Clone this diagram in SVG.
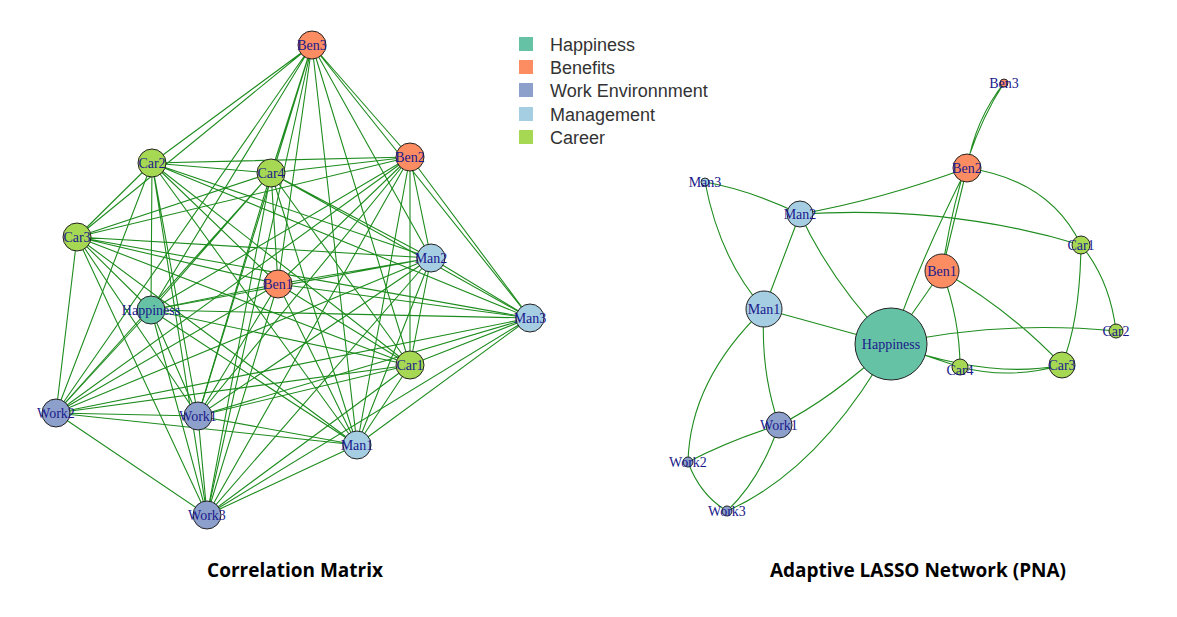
<svg xmlns="http://www.w3.org/2000/svg" width="1177" height="617" viewBox="0 0 1177 617">
<style>
.e{fill:none;stroke:#1e8c1e;stroke-width:1.1}
.n{stroke:#222;stroke-width:1}
.hp{fill:#66c2a5}.bn{fill:#fc8d62}.we{fill:#8da0cb}.mg{fill:#a6cee3}.cr{fill:#a6d854}
.l{font-family:"Liberation Serif",serif;font-size:14px;fill:#1a1a8c;text-anchor:middle;dominant-baseline:central}
.lg{font-family:"Liberation Sans",sans-serif;font-size:18px;fill:#333}
.t{font-family:"Open Sans","Liberation Sans",sans-serif;font-size:19px;font-weight:bold;fill:#000;text-anchor:middle}
</style>
<rect width="1177" height="617" fill="#fff"/>
<g id="connectors">
<path class="e" d="M312 45L152 163M312 45L271 173M312 45L410 157M312 45L77 237M312 45L431 258M312 45L278 284M312 45L151 310M312 45L530 318M312 45L410 365M312 45L56 413M312 45L198 416M312 45L357 445M312 45L207 515"/>
<path class="e" d="M152 163L271 173M152 163L410 157M152 163L77 237M152 163L431 258M152 163L278 284M152 163L151 310M152 163L530 318M152 163L410 365M152 163L56 413M152 163L198 416M152 163L357 445M152 163L207 515"/>
<path class="e" d="M271 173L410 157M271 173L77 237M271 173L431 258M271 173L278 284M271 173L151 310M271 173L530 318M271 173L410 365M271 173L56 413M271 173L198 416M271 173L357 445M271 173L207 515"/>
<path class="e" d="M410 157L77 237M410 157L431 258M410 157L278 284M410 157L151 310M410 157L530 318M410 157L410 365M410 157L56 413M410 157L198 416M410 157L357 445M410 157L207 515"/>
<path class="e" d="M77 237L431 258M77 237L278 284M77 237L151 310M77 237L530 318M77 237L410 365M77 237L56 413M77 237L198 416M77 237L357 445M77 237L207 515"/>
<path class="e" d="M431 258L278 284M431 258L151 310M431 258L530 318M431 258L410 365M431 258L56 413M431 258L198 416M431 258L357 445M431 258L207 515"/>
<path class="e" d="M278 284L151 310M278 284L530 318M278 284L410 365M278 284L56 413M278 284L198 416M278 284L357 445M278 284L207 515"/>
<path class="e" d="M151 310L530 318M151 310L410 365M151 310L56 413M151 310L198 416M151 310L357 445M151 310L207 515"/>
<path class="e" d="M530 318L410 365M530 318L56 413M530 318L198 416M530 318L357 445M530 318L207 515"/>
<path class="e" d="M410 365L56 413M410 365L198 416M410 365L357 445M410 365L207 515"/>
<path class="e" d="M56 413L198 416M56 413L357 445M56 413L207 515M198 416L357 445M198 416L207 515M357 445L207 515"/>
<path class="e" d="M1004 83Q975 120 967 168M1004 83Q960 150 942 271M967 168Q880 200 800 214M967 168Q1050 180 1081 245M967 168L942 271M967 168Q920 260 891 344M705 182Q750 190 800 214M705 182Q720 260 764 309M800 214Q950 205 1081 245M800 214L764 309M800 214Q830 280 891 344M1081 245Q1110 280 1116 331M1081 245Q1080 320 1062 365M942 271L891 344M942 271Q960 320 960 367M942 271Q1010 310 1062 365M764 309L891 344M764 309Q760 370 779 425M764 309Q690 380 688 462M891 344Q1000 320 1116 331M891 344Q990 380 1062 365M891 344Q830 400 779 425M891 344Q820 470 727 511M960 367Q1010 380 1062 365M891 344L960 367M779 425Q730 440 688 462M779 425Q760 480 727 511M688 462Q700 495 727 511"/>
</g>
<g id="Ben3L"><circle class="n bn" cx="312" cy="45" r="14"/><text class="l" x="312" y="45">Ben3</text></g>
<g id="Car2L"><circle class="n cr" cx="152" cy="163" r="14"/><text class="l" x="152" y="163">Car2</text></g>
<g id="Car4L"><circle class="n cr" cx="271" cy="173" r="14"/><text class="l" x="271" y="173">Car4</text></g>
<g id="Ben2L"><circle class="n bn" cx="410" cy="157" r="14"/><text class="l" x="410" y="157">Ben2</text></g>
<g id="Car3L"><circle class="n cr" cx="77" cy="237" r="14"/><text class="l" x="77" y="237">Car3</text></g>
<g id="Man2L"><circle class="n mg" cx="431" cy="258" r="14"/><text class="l" x="431" y="258">Man2</text></g>
<g id="Ben1L"><circle class="n bn" cx="278" cy="284" r="14"/><text class="l" x="278" y="284">Ben1</text></g>
<g id="HappinessL"><circle class="n hp" cx="151" cy="310" r="14"/><text class="l" x="151" y="310">Happiness</text></g>
<g id="Man3L"><circle class="n mg" cx="530" cy="318" r="14"/><text class="l" x="530" y="318">Man3</text></g>
<g id="Car1L"><circle class="n cr" cx="410" cy="365" r="14"/><text class="l" x="410" y="365">Car1</text></g>
<g id="Work2L"><circle class="n we" cx="56" cy="413" r="14"/><text class="l" x="56" y="413">Work2</text></g>
<g id="Work1L"><circle class="n we" cx="198" cy="416" r="14"/><text class="l" x="198" y="416">Work1</text></g>
<g id="Man1L"><circle class="n mg" cx="357" cy="445" r="14"/><text class="l" x="357" y="445">Man1</text></g>
<g id="Work3L"><circle class="n we" cx="207" cy="515" r="14"/><text class="l" x="207" y="515">Work3</text></g>
<g id="Ben3R"><circle class="n bn" cx="1004" cy="83" r="4"/><text class="l" x="1004" y="83">Ben3</text></g>
<g id="Ben2R"><circle class="n bn" cx="967" cy="168" r="14"/><text class="l" x="967" y="168">Ben2</text></g>
<g id="Man3R"><circle class="n mg" cx="705" cy="182" r="4"/><text class="l" x="705" y="182">Man3</text></g>
<g id="Man2R"><circle class="n mg" cx="800" cy="214" r="13"/><text class="l" x="800" y="214">Man2</text></g>
<g id="Car1R"><circle class="n cr" cx="1081" cy="245" r="9"/><text class="l" x="1081" y="245">Car1</text></g>
<g id="Ben1R"><circle class="n bn" cx="942" cy="271" r="17"/><text class="l" x="942" y="271">Ben1</text></g>
<g id="Man1R"><circle class="n mg" cx="764" cy="309" r="18"/><text class="l" x="764" y="309">Man1</text></g>
<g id="HappinessR"><circle class="n hp" cx="891" cy="344" r="36"/><text class="l" x="891" y="344">Happiness</text></g>
<g id="Car2R"><circle class="n cr" cx="1116" cy="331" r="7"/><text class="l" x="1116" y="331">Car2</text></g>
<g id="Car4R"><circle class="n cr" cx="960" cy="367" r="8"/><text class="l" x="960" y="370">Car4</text></g>
<g id="Car3R"><circle class="n cr" cx="1062" cy="365" r="13"/><text class="l" x="1062" y="365">Car3</text></g>
<g id="Work1R"><circle class="n we" cx="779" cy="425" r="13"/><text class="l" x="779" y="425">Work1</text></g>
<g id="Work2R"><circle class="n we" cx="688" cy="462" r="5"/><text class="l" x="688" y="462">Work2</text></g>
<g id="Work3R"><circle class="n we" cx="727" cy="511" r="5"/><text class="l" x="727" y="511">Work3</text></g>
<g id="legend">
<rect class="hp" x="519" y="37" width="14" height="14"/><text class="lg" x="550" y="51">Happiness</text>
<rect class="bn" x="519" y="60" width="14" height="14"/><text class="lg" x="550" y="74">Benefits</text>
<rect class="we" x="519" y="83" width="14" height="14"/><text class="lg" x="550" y="97">Work Environnment</text>
<rect class="mg" x="519" y="107" width="14" height="14"/><text class="lg" x="550" y="121">Management</text>
<rect class="cr" x="519" y="130" width="14" height="14"/><text class="lg" x="550" y="144">Career</text>
</g>
<text class="t" x="295" y="577">Correlation Matrix</text>
<text class="t" x="918" y="577">Adaptive LASSO Network (PNA)</text>
</svg>
